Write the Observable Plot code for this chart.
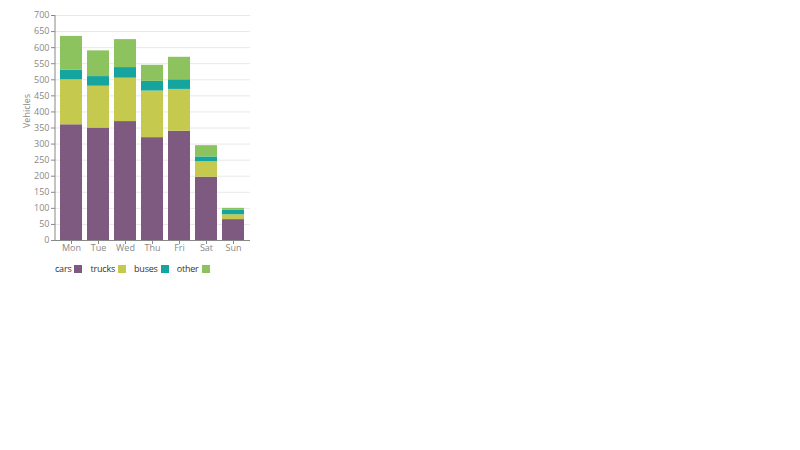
<!DOCTYPE html>
<html><head><meta charset="utf-8">
<script src="https://cdn.jsdelivr.net/npm/d3@7"></script>
<script src="https://cdn.jsdelivr.net/npm/@observablehq/plot@0.6"></script>
<style>
body{margin:0;background:#fff;font-family:"Open Sans",sans-serif;}
#chart{position:absolute;left:0;top:0;}
#legend{position:absolute;left:55px;top:262px;font-size:9px;letter-spacing:-0.2px;color:#333;display:flex;gap:8px;align-items:center;}
#legend span.sw{display:inline-block;width:8px;height:8px;margin-left:3px;vertical-align:-1px;}
</style></head>
<body><div id="chart"></div><div id="legend"></div>
<script>
const days = ["Mon","Tue","Wed","Thu","Fri","Sat","Sun"];
const types = ["cars","trucks","buses","other"];
const colors = ["#7e5a80","#c5c94d","#16a49e","#8cc35f"];
const cars   = [360,350,370,320,340,197,65];
const trucks = [140,130,135,145,130,48,15];
const buses  = [30,30,33,30,30,15,15];
const other  = [105,80,87,50,70,35,5];
const yTicks = [0,50,100,150,200,250,300,350,400,450,500,550,600,650,700];

const series = {cars, trucks, buses, other};
const data = [];
types.forEach(t => days.forEach((d,i) => data.push({day:d, type:t, value:series[t][i]})));

const plot = Plot.plot({
  width: 260, height: 262,
  marginLeft: 55, marginRight: 10, marginTop: 15, marginBottom: 22,
  style: {fontFamily: "'Open Sans', sans-serif", fontSize: "9px", color: "#888"},
  x: {domain: days, label: null, padding: 0.18},
  y: {domain: [0,700], label: null},
  color: {domain: types, range: colors},
  marks: [
    Plot.gridY(yTicks, {stroke: "#e8e8e8", strokeOpacity: 1}),
    Plot.barY(data, {x: "day", y: "value", fill: "type", order: types}),
    Plot.axisY({ticks: yTicks, tickSize: 4, tickPadding: 2, stroke: "#888", fill: "#888", label: null}),
    Plot.axisX({tickSize: 4, tickPadding: 0, stroke: "#888", fill: "#888", label: null}),
    Plot.ruleY([0], {stroke: "#888"}),
    Plot.text(["Vehicles"], {frameAnchor: "left", dx: -28, rotate: -90, fill: "#888", fontSize: 9})
  ]
});
document.getElementById("chart").appendChild(plot);
const svg = d3.select(plot);
const ys = plot.scale("y");
svg.append("line").attr("x1",55).attr("x2",55).attr("y1",ys.apply(700)).attr("y2",ys.apply(0)).attr("stroke","#888");

const leg = document.getElementById("legend");
types.forEach((t,i) => {
  const item = document.createElement("div");
  item.innerHTML = `${t}<span class="sw" style="background:${colors[i]}"></span>`;
  leg.appendChild(item);
});
</script></body></html>
